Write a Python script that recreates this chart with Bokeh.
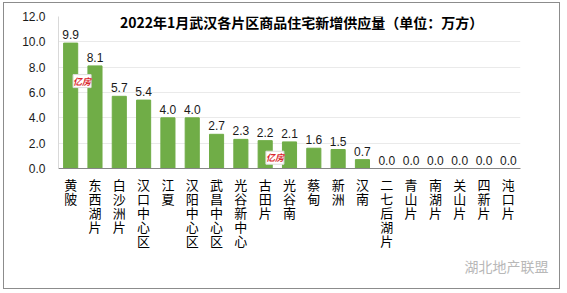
from bokeh.plotting import figure
from bokeh.models import (ColumnDataSource, Range1d, Label, FixedTicker,
                          NumeralTickFormatter, LinearAxis, Title)
from bokeh.core.properties import value
from bokeh.embed import file_html
from bokeh.resources import INLINE

categories = ["黄陂", "东西湖片", "白沙洲片", "汉口中心区", "江夏", "汉阳中心区", "武昌中心区",
              "光谷新中心", "古田片", "光谷南", "蔡甸", "新洲", "汉南", "二七后湖片", "青山片",
              "南湖片", "关山片", "四新片", "沌口片"]
supply = [9.9, 8.1, 5.7, 5.4, 4.0, 4.0, 2.7, 2.3, 2.2, 2.1, 1.6, 1.5, 0.7, 0.0, 0.0, 0.0, 0.0, 0.0, 0.0]
value_labels = [f"{v:.1f}" for v in supply]
y_ticks = [0, 2, 4, 6, 8, 10, 12]
title_text = "2022年1月武汉各片区商品住宅新增供应量（单位：万方）"
watermark = "湖北地产联盟"
logo_text = "亿房"

idx = list(range(len(categories)))
src = ColumnDataSource(dict(x=idx, val=supply, lab=value_labels))
n_rows = max(len(c) for c in categories)

p = figure(x_range=Range1d(-0.5, len(categories) - 0.5), y_range=Range1d(0, 12),
           width=557, height=287, output_backend="svg", toolbar_location=None,
           min_border_left=54, min_border_right=41, min_border_top=13, min_border_bottom=122)
p.margin = (2, 0, 0, 3)
p.styles = {"border": "1px solid #8c8c8c", "box-sizing": "border-box"}
p.outline_line_color = None
p.background_fill_color = "white"
p.border_fill_color = "white"

p.vbar(x="x", top="val", width=0.58, source=src, color="#70AD47")
p.text(x="x", y="val", text="lab", source=src, text_align="center", text_baseline="bottom",
       y_offset=-4, text_font_size="12px", text_color="#1a1a1a", text_font=value("Liberation Sans"))

p.yaxis.ticker = FixedTicker(ticks=y_ticks)
p.yaxis.formatter = NumeralTickFormatter(format="0.0")
p.yaxis.major_label_text_font = "Liberation Sans"
p.yaxis.major_label_text_font_size = "12px"
p.yaxis.major_label_text_color = "#1a1a1a"
p.yaxis.major_tick_line_color = None
p.yaxis.minor_tick_line_color = None
p.yaxis.axis_line_color = "#d9d9d9"
p.yaxis.major_label_standoff = 7


def style_row_axis(ax, row, standoff):
    ax.ticker = FixedTicker(ticks=idx)
    ax.major_label_overrides = {i: (c[row] if row < len(c) else " ") for i, c in zip(idx, categories)}
    ax.major_label_text_font = "Noto Sans CJK SC"
    ax.major_label_text_font_size = "13px"
    ax.major_label_text_color = "#000000"
    ax.major_label_standoff = standoff
    ax.major_tick_line_color = None
    ax.minor_tick_line_color = None
    ax.major_tick_out = 0
    ax.major_tick_in = 0


xa = p.xaxis[0]
style_row_axis(xa, 0, 6)
xa.axis_line_color = "#868686"
for r in range(1, n_rows):
    ax = LinearAxis()
    style_row_axis(ax, r, -8)
    ax.axis_line_color = None
    p.add_layout(ax, "below")

p.add_layout(Title(text=watermark, align="right", text_font="Noto Sans CJK SC",
                   text_font_size="14px", text_font_style="normal", text_color="#b8b8b8",
                   offset=-28, standoff=3), "below")

p.xgrid.grid_line_color = None
p.ygrid.grid_line_color = "#eaeaea"
p.ygrid.ticker = FixedTicker(ticks=y_ticks)

p.add_layout(Label(x=9.5, y=11.6, text=title_text, text_align="center", text_baseline="middle",
                   text_font="Noto Sans CJK SC", text_font_size="14px", text_font_style="bold",
                   text_color="#000000"))
for lx, ly in [(0.47, 6.9), (8.4, 0.85)]:
    p.add_layout(Label(x=lx, y=ly, text=logo_text, text_align="center", text_baseline="middle",
                       text_font="Noto Sans CJK SC", text_font_size="9px", text_font_style="bold italic",
                       text_color="#d9262c", background_fill_color="white",
                       border_line_color="#dddddd"))

open("out.html", "w").write(file_html(p, INLINE))
